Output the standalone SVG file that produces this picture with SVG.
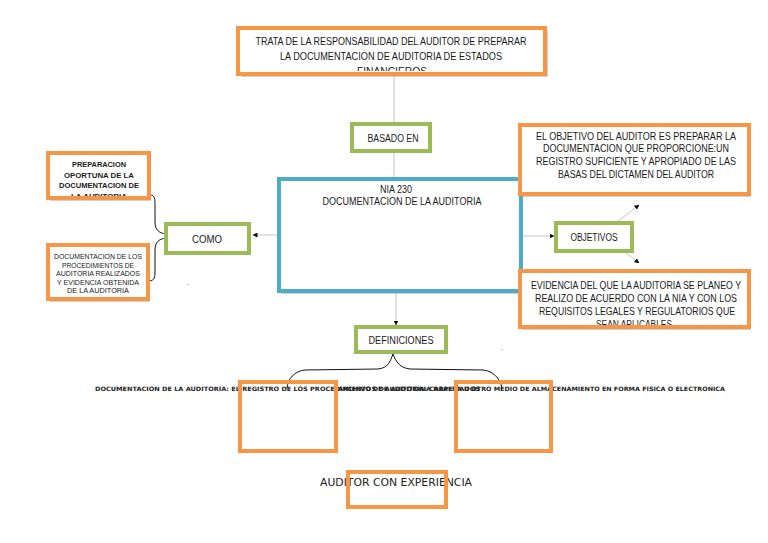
<svg xmlns="http://www.w3.org/2000/svg" width="768" height="543" viewBox="0 0 768 543">
<style>
.ob{fill:#fff;stroke:#F79646;stroke-width:4}
.obn{fill:none;stroke:#F79646;stroke-width:4}
.gb{fill:#fff;stroke:#9BBB59;stroke-width:4}
.bb{fill:#fff;stroke:#4BACC6;stroke-width:4}
.sh{fill:#8c8c8c;opacity:.4}
.t{font-family:"Liberation Sans",Arial,sans-serif;fill:#1a1a1a;text-anchor:middle}
.tb{font-family:"Liberation Sans",Arial,sans-serif;fill:#1a1a1a;text-anchor:middle;font-weight:bold}
.d{font-family:"DejaVu Sans",sans-serif;fill:#222;font-weight:bold;font-size:6px}
.con{stroke:#c4c4c4;stroke-width:1;fill:none}
.br{stroke:#111;stroke-width:1;fill:none}
</style>
<defs>
<marker id="ah" viewBox="0 0 10 10" refX="9" refY="5" markerWidth="5" markerHeight="5" orient="auto" markerUnits="userSpaceOnUse">
<path d="M0,0 L10,5 L0,10 z" fill="#111"/>
</marker>
<clipPath id="cTop"><rect x="240" y="30" width="303" height="41"/></clipPath>
<clipPath id="cLT"><rect x="50" y="155" width="97" height="41"/></clipPath>
<clipPath id="cRB"><rect x="522" y="273" width="225" height="52"/></clipPath>
</defs>
<rect width="768" height="543" fill="#fff"/>

<g id="connectors">
<line class="con" x1="394" y1="76" x2="394" y2="123"/>
<line class="con" x1="394" y1="153" x2="394" y2="178"/>
<line class="con" x1="278" y1="235" x2="253" y2="235" marker-end="url(#ah)"/>
<line class="con" x1="522" y1="236" x2="554" y2="236" marker-end="url(#ah)"/>
<line class="con" x1="396" y1="293" x2="396" y2="325" marker-end="url(#ah)"/>
<line class="con" x1="617" y1="222" x2="639" y2="205" marker-end="url(#ah)"/>
<line class="con" x1="626" y1="253" x2="639" y2="263" marker-end="url(#ah)"/>
<path class="br" d="M150,195 C155,195 155,199 155,206 L155,222 C155,230 159,233 166,234"/>
<path class="br" d="M166,238 C159,239 155,242 155,250 L155,273 C155,279 153,281 148,281"/>
<path class="br" d="M393,354 C390,362 388,368 378,369 L305,370 C295,371 288,378 287,388"/>
<path class="br" d="M393,354 C396,362 400,368 410,369 L483,370 C493,371 500,378 502,388"/>
</g>

<g id="n-top">
<rect class="sh" x="241" y="31" width="307" height="46"/>
<rect class="ob" x="238" y="28" width="307" height="46"/>
<g clip-path="url(#cTop)">
<text class="t" x="391" y="45" font-size="10.5" textLength="271" lengthAdjust="spacingAndGlyphs">TRATA DE LA RESPONSABILIDAD DEL AUDITOR DE PREPARAR</text>
<text class="t" x="391" y="60" font-size="10.5" textLength="222" lengthAdjust="spacingAndGlyphs">LA DOCUMENTACION DE AUDITORIA  DE ESTADOS</text>
<text class="t" x="392" y="75" font-size="10.5" textLength="70" lengthAdjust="spacingAndGlyphs">FINANCIEROS</text>
</g>
</g>

<g id="n-basado">
<rect class="sh" x="354" y="126" width="78" height="27"/>
<rect class="gb" x="352" y="124" width="78" height="27"/>
<text class="t" x="393" y="142" font-size="10" textLength="51" lengthAdjust="spacingAndGlyphs">BASADO EN</text>
</g>

<g id="n-main">
<rect class="sh" x="281" y="182" width="242" height="112"/>
<rect class="bb" x="279" y="179" width="242" height="112"/>
<text class="t" x="396" y="193" font-size="10" textLength="32" lengthAdjust="spacingAndGlyphs">NIA 230</text>
<text class="t" x="402" y="205" font-size="10" textLength="159" lengthAdjust="spacingAndGlyphs">DOCUMENTACION DE  LA AUDITORIA</text>
</g>

<g id="n-como">
<rect class="sh" x="168" y="226" width="83" height="29"/>
<rect class="gb" x="166" y="224" width="83" height="29"/>
<text class="t" x="207" y="243" font-size="10" textLength="30" lengthAdjust="spacingAndGlyphs">COMO</text>
</g>

<g id="n-prep">
<rect class="sh" x="50" y="156" width="101" height="45"/>
<rect class="ob" x="48" y="153" width="101" height="45"/>
<g clip-path="url(#cLT)">
<text class="tb" x="99" y="167" font-size="8" textLength="54" lengthAdjust="spacingAndGlyphs">PREPARACION</text>
<text class="tb" x="99" y="178" font-size="8" textLength="70" lengthAdjust="spacingAndGlyphs">OPORTUNA DE LA</text>
<text class="tb" x="99" y="188" font-size="8" textLength="80" lengthAdjust="spacingAndGlyphs">DOCUMENTACION DE</text>
<text class="tb" x="99" y="199" font-size="8" textLength="56" lengthAdjust="spacingAndGlyphs">LA AUDITORIA</text>
</g>
</g>

<g id="n-docproc">
<rect class="sh" x="50" y="248" width="100" height="54"/>
<rect class="ob" x="48" y="245" width="100" height="54"/>
<text class="t" x="98" y="259" font-size="6.5" textLength="88" lengthAdjust="spacingAndGlyphs">DOCUMENTACION DE LOS</text>
<text class="t" x="98" y="268" font-size="6.5" textLength="72" lengthAdjust="spacingAndGlyphs">PROCEDIMIENTOS DE</text>
<text class="t" x="98" y="276" font-size="6.5" textLength="84" lengthAdjust="spacingAndGlyphs">AUDITORIA REALIZADOS</text>
<text class="t" x="98" y="285" font-size="6.5" textLength="82" lengthAdjust="spacingAndGlyphs">Y EVIDENCIA OBTENIDA</text>
<text class="t" x="98" y="293" font-size="6.5" textLength="62" lengthAdjust="spacingAndGlyphs">DE LA AUDITORIA</text>
</g>

<g id="n-objetivos">
<rect class="sh" x="558" y="225" width="76" height="28"/>
<rect class="gb" x="556" y="223" width="76" height="28"/>
<text class="t" x="594" y="241" font-size="10" textLength="47" lengthAdjust="spacingAndGlyphs">OBJETIVOS</text>
</g>

<g id="n-objetivo-aud">
<rect class="sh" x="522" y="128" width="229" height="69"/>
<rect class="ob" x="520" y="125" width="229" height="69"/>
<text class="t" x="636" y="140" font-size="10.5" textLength="200" lengthAdjust="spacingAndGlyphs">EL OBJETIVO DEL AUDITOR ES PREPARAR LA</text>
<text class="t" x="636" y="152" font-size="10.5" textLength="186" lengthAdjust="spacingAndGlyphs">DOCUMENTACION QUE PROPORCIONE:UN</text>
<text class="t" x="636" y="165" font-size="10.5" textLength="200" lengthAdjust="spacingAndGlyphs">REGISTRO SUFICIENTE Y APROPIADO DE LAS</text>
<text class="t" x="636" y="178" font-size="10.5" textLength="156" lengthAdjust="spacingAndGlyphs">BASAS DEL DICTAMEN DEL AUDITOR</text>
</g>

<g id="n-evidencia">
<rect class="sh" x="522" y="274" width="229" height="56"/>
<rect class="ob" x="520" y="271" width="229" height="56"/>
<g clip-path="url(#cRB)">
<text class="t" x="636" y="289" font-size="10.5" textLength="210" lengthAdjust="spacingAndGlyphs">EVIDENCIA DEL QUE LA AUDITORIA SE PLANEO Y</text>
<text class="t" x="636" y="302" font-size="10.5" textLength="202" lengthAdjust="spacingAndGlyphs">REALIZO DE ACUERDO CON LA NIA Y CON LOS</text>
<text class="t" x="637" y="315" font-size="10.5" textLength="196" lengthAdjust="spacingAndGlyphs">REQUISITOS LEGALES Y REGULATORIOS QUE</text>
<text class="t" x="634" y="328" font-size="10.5" textLength="76" lengthAdjust="spacingAndGlyphs">SEAN APLICABLES</text>
</g>
</g>

<g id="n-definiciones">
<rect class="sh" x="358" y="329" width="90" height="25"/>
<rect class="gb" x="356" y="327" width="90" height="25"/>
<text class="t" x="401" y="344" font-size="10" textLength="65" lengthAdjust="spacingAndGlyphs">DEFINICIONES</text>
</g>

<g id="n-def-texts">
<text class="d" x="95" y="391" textLength="385" lengthAdjust="spacingAndGlyphs">DOCUMENTACION DE LA AUDITORIA: EL REGISTRO DE LOS PROCEDIMIENTOS DE AUDITORIA REALIZADOS</text>
<text class="d" x="338" y="391" textLength="387" lengthAdjust="spacingAndGlyphs">ARCHIVO DE AUDITORIA: CARPETA U OTRO MEDIO DE ALMACENAMIENTO EN FORMA FISICA O ELECTRONICA</text>
</g>

<g id="n-def-left"><rect class="obn" x="240" y="382" width="96" height="69"/></g>
<g id="n-def-right"><rect class="obn" x="456" y="382" width="95" height="69"/></g>

<g id="n-auditor">
<text x="396" y="486" font-family="'DejaVu Sans',sans-serif" font-size="11" fill="#222" text-anchor="middle" textLength="152" lengthAdjust="spacingAndGlyphs">AUDITOR CON EXPERIENCIA</text>
<rect class="obn" x="348" y="472" width="98" height="35" stroke-width="3.5"/>
</g>

<text x="187" y="285" font-family="'Liberation Sans',sans-serif" font-size="7" fill="#333">.</text>
<text x="501" y="350" font-family="'Liberation Sans',sans-serif" font-size="7" fill="#333">.</text>
</svg>
